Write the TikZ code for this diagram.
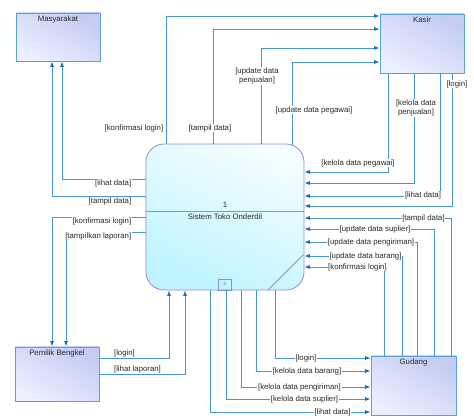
\documentclass[tikz,border=0pt]{standalone}
\usepackage{fontspec}
\setmainfont{Liberation Sans}
\usetikzlibrary{arrows.meta}
\definecolor{lineblue}{RGB}{70,150,205}
\definecolor{tipblue}{RGB}{25,110,180}
\definecolor{boxborder}{RGB}{90,160,215}
\definecolor{boxA}{RGB}{196,204,243}
\definecolor{boxB}{RGB}{236,239,255}
\definecolor{procA}{RGB}{244,253,255}
\definecolor{procB}{RGB}{190,244,255}
\definecolor{procborder}{RGB}{140,140,225}
\definecolor{txt}{RGB}{40,40,40}
\tikzset{
  ext/.style={draw=boxborder, line width=0.8pt, shading=axis, top color=boxA, bottom color=boxB, shading angle=-30},
  boxtext/.style={font=\fontsize{7.8}{9}\selectfont, text=txt, inner sep=0pt},
  flow/.style={draw=lineblue, line width=0.8pt},
  arr/.style={-{Latex[length=5.5pt,width=4pt,color=tipblue]}},
  lbl/.style={font=\fontsize{7.8}{9}\selectfont, text=txt, fill=white, inner sep=0.6pt, align=center}
}
\begin{document}
\begin{tikzpicture}[x=1pt,y=-1pt]
\useasboundingbox (0,0) rectangle (474,419);
% external entities
\node[ext, minimum width=84pt, minimum height=48pt, inner sep=0pt] (masy) at (58,37) {};
\node[ext, minimum width=84pt, minimum height=59pt, inner sep=0pt] (kasir) at (422,43.5) {};
\node[ext, minimum width=85pt, minimum height=59pt, inner sep=0pt] (gud) at (413.5,385.5) {};
\node[ext, minimum width=84pt, minimum height=54pt, inner sep=0pt] (pem) at (57,374) {};
\node[boxtext] (tmasy) at (58,19) {Masyarakat};
\node[boxtext] (tkasir) at (422,20) {Kasir};
\node[boxtext] (tgud) at (413.5,362) {Gudang};
\node[boxtext] (tpem) at (57,353) {Pemilik Bengkel};
% process
\node[draw=procborder, line width=0.8pt, rounded corners=18pt, minimum width=158pt, minimum height=146pt, inner sep=0pt, shading=axis, top color=procA, bottom color=procB, shading angle=-25] (proc) at (225,217) {};
\coordinate (dl) at (proc.west |- 0,211);
\coordinate (dr) at (proc.east |- 0,211);
\draw[procborder, line width=0.8pt] (dl) -- (dr);
\coordinate (g1) at (268,290);
\coordinate (g2) at (303,255);
\draw[procborder, line width=0.8pt] (g1) -- (g2);
\node[draw=procborder, line width=0.6pt, minimum width=13pt, minimum height=11pt, inner sep=0pt, font=\fontsize{8}{8}\selectfont, text=procborder] (plus) at (225,284.5) {+};
\node[boxtext] (pnum) at (225,205) {1};
\node[boxtext] (pname) at (225,217) {Sistem Toko Onderdil};
% process -> Masyarakat
\draw[flow,arr] (proc.west |- 0,196) -| (masy.south -| 52,0);
\draw[flow,arr] (proc.west |- 0,179) -| (masy.south -| 62,0);
% process -> Pemilik
\draw[flow,arr] (proc.west |- 0,217) -| (pem.north -| 52,0);
\draw[flow,arr] (proc.west |- 0,232) -| (pem.north -| 66,0);
% Pemilik -> process
\draw[flow,arr] (pem.east |- 0,358) -| (proc.south -| 169,0);
\draw[flow,arr] (pem.east |- 0,374) -| (proc.south -| 185,0);
% process -> Kasir
\draw[flow,arr] (proc.north -| 166,0) |- (kasir.west |- 0,16);
\draw[flow,arr] (proc.north -| 213,0) |- (kasir.west |- 0,29);
\draw[flow,arr] (proc.north -| 261,0) |- (kasir.west |- 0,48);
\coordinate (pc) at (292,145);
\draw[flow,arr] (pc) |- (kasir.west |- 0,62);
% Kasir -> process
\draw[flow,arr] (kasir.south -| 388,0) |- (proc.east |- 0,172);
\draw[flow,arr] (kasir.south -| 414,0) |- (proc.east |- 0,183);
\draw[flow,arr] (kasir.south -| 440,0) |- (proc.east |- 0,196);
\draw[flow,arr] (kasir.south -| 452,0) |- (proc.east |- 0,206);
% Gudang -> process
\draw[flow,arr] (gud.north -| 451,0) |- (proc.east |- 0,218);
\draw[flow,arr] (gud.north -| 434,0) |- (proc.east |- 0,229);
\draw[flow,arr] (gud.north -| 417,0) |- (proc.east |- 0,242);
\draw[flow,arr] (gud.north -| 402,0) |- (proc.east |- 0,256);
\draw[flow,arr] (gud.north -| 384,0) |- (proc.east |- 0,267);
% process -> Gudang
\draw[flow,arr] (proc.south -| 275,0) |- (gud.west |- 0,358);
\draw[flow,arr] (proc.south -| 256,0) |- (gud.west |- 0,371);
\draw[flow,arr] (proc.south -| 241,0) |- (gud.west |- 0,387);
\draw[flow,arr] (proc.south -| 226,0) |- (gud.west |- 0,399);
\draw[flow,arr] (proc.south -| 210,0) |- (gud.west |- 0,412);
% labels
\node[lbl, anchor=east] (l1) at (164,128) {[konfirmasi login]};
\node[lbl] (l2) at (210,128) {[tampil data]};
\node[lbl] (l3) at (257,76) {[update data\\penjualan]};
\node[lbl] (l4) at (314,110) {[update data pegawai]};
\node[lbl] (l5) at (416,108) {[kelola data\\penjualan]};
\node[lbl] (l6) at (457,84) {[login]};
\node[lbl] (l7) at (358,163) {[kelola data pegawai]};
\node[lbl] (l8) at (423,195) {[lihat data]};
\node[lbl] (l9) at (423.5,218) {[tampil data]};
\node[lbl] (l10) at (375,229) {[update data suplier]};
\node[lbl] (l11) at (371,242) {[update data pengiriman]};
\node[lbl] (l12) at (365.5,256) {[update data barang]};
\node[lbl] (l13) at (357.5,267) {[konfirmasi login]};
\node[lbl] (l14) at (306,358) {[login]};
\node[lbl] (l15) at (307,371) {[kelola data barang]};
\node[lbl] (l16) at (299.5,387) {[kelola data pengiriman]};
\node[lbl] (l17) at (304.5,399) {[kelola data suplier]};
\node[lbl] (l18) at (332.5,412) {[lihat data]};
\node[lbl, anchor=east] (l19) at (132,183) {[lihat data]};
\node[lbl, anchor=east] (l20) at (132,201) {[tampil data]};
\node[lbl, anchor=east] (l21) at (132,221) {[konfirmasi login]};
\node[lbl, anchor=east] (l22) at (132,236) {[tampilkan laporan]};
\node[lbl] (l23) at (124.5,353) {[login]};
\node[lbl] (l24) at (137.5,369) {[lihat laporan]};
\end{tikzpicture}
\end{document}
